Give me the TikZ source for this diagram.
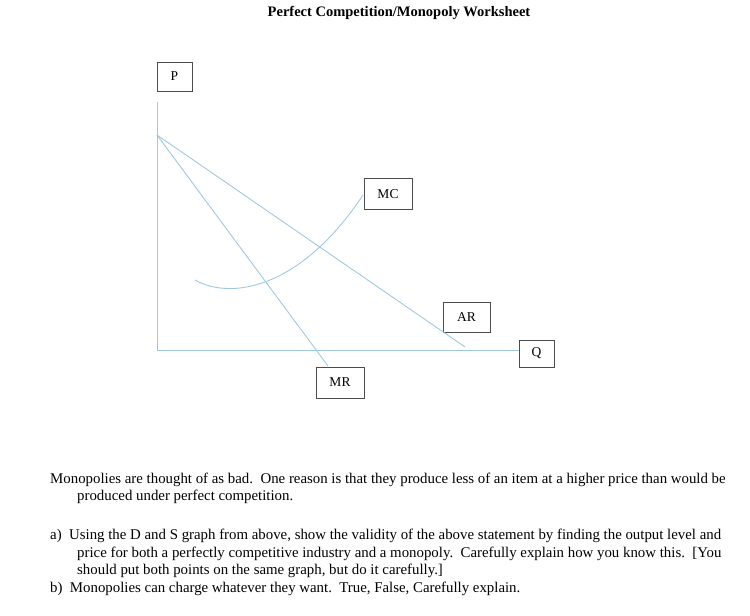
\documentclass[tikz,border=0pt]{standalone}
\usepackage{fontspec}
\setmainfont{Liberation Serif}
\begin{document}
\begin{tikzpicture}[x=1pt,y=-1pt,
  lbl/.style={draw=black!70,fill=white,minimum width=#1,minimum height=29pt,font=\fontsize{13.5}{15}\selectfont,inner sep=0pt},
  lbl/.default=36pt,
  txt/.style={anchor=base west,inner sep=0pt,font=\fontsize{14.85}{17}\selectfont}]
\useasboundingbox (0,0) rectangle (750,616);
\definecolor{lb}{RGB}{160,200,228}
\node[font=\bfseries\fontsize{14.5}{17}\selectfont] (title) at (399,13) {Perfect Competition/Monopoly Worksheet};
\node[lbl=35pt] (P) at (174.5,76.5) {P};
\node[lbl=35pt,minimum height=27pt] (Q) at (536.5,353.5) {Q};
\node[lbl=48pt,minimum height=31pt] (MC) at (388,194) {MC};
\node[lbl=47pt,minimum height=30pt] (AR) at (466.5,317) {AR};
\node[lbl=48pt,minimum height=31pt] (MR) at (340,382.5) {MR};
\coordinate (top) at (157,102);
\coordinate (o) at (157,350);
\coordinate (xe) at (519,350);
\coordinate (d) at (157,135);
\coordinate (are) at (465,347);
\coordinate (mre) at (328,366);
\coordinate (mc0) at (195,280);
\coordinate (mc1) at (363,195);
\draw[lb,line width=0.9pt] (top) -- (o) -- (xe);
\draw[lb,line width=0.9pt] (d) -- (are);
\draw[lb,line width=0.9pt] (d) -- (mre);
\draw[lb,line width=0.9pt] (mc0) .. controls (230,300) and (300,290) .. (mc1);
\node[txt] (t1) at (50,483) {Monopolies are thought of as bad.\ \ One reason is that they produce less of an item at a higher price than would be};
\node[txt] (t2) at (77,500) {produced under perfect competition.};
\node[txt] (t3) at (50,539) {a)\ \ Using the D and S graph from above, show the validity of the above statement by finding the output level and};
\node[txt] (t4) at (77,557) {price for both a perfectly competitive industry and a monopoly.\ \ Carefully explain how you know this.\ \ [You};
\node[txt] (t5) at (77,574) {should put both points on the same graph, but do it carefully.]};
\node[txt] (t6) at (50,592) {b)\ \ Monopolies can charge whatever they want.\ \ True, False, Carefully explain.};
\end{tikzpicture}
\end{document}
